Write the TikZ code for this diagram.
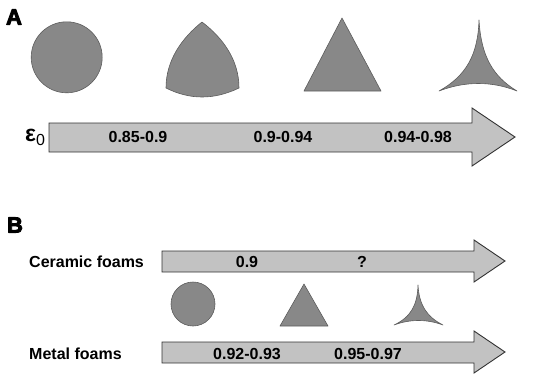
\documentclass[tikz,border=0pt]{standalone}
\usepackage{fontspec}
\setmainfont{Liberation Sans}
\newfontfamily\heavyfont[FakeBold=4]{Liberation Sans Bold}
\definecolor{shapegray}{HTML}{888888}
\definecolor{shapeline}{HTML}{5C5C5C}
\definecolor{arrowgray}{HTML}{C2C2C2}
\definecolor{arrowline}{HTML}{333333}
\tikzset{
  particle/.style={fill=shapegray,draw=shapeline,line width=0.6pt},
  bigarrow/.style={fill=arrowgray,draw=arrowline,line width=0.9pt,line join=miter},
  value/.style={font=\fontsize{16}{19}\selectfont\bfseries,inner sep=0pt},
  panel/.style={font=\fontsize{22}{24}\selectfont\heavyfont,inner sep=0pt}
}
\begin{document}
\begin{tikzpicture}[x=1pt,y=-1pt,line cap=round,line join=round]
  \useasboundingbox (0,0) rectangle (550,381);
  % panel A
  \node[panel] (labA) at (14,17) {A};
  \draw[particle] (66.7,57.3) circle[radius=35.5];
  \draw[particle] (202,22) .. controls (182,38) and (166,60) .. (166,88)
    .. controls (190,100) and (214,100) .. (239,88)
    .. controls (239,60) and (223,38) .. (202,22) -- cycle;
  \draw[particle] (342,18) -- (304,91) -- (381,91) -- cycle;
  \draw[particle] (479,20) .. controls (478,55) and (466,76) .. (439,91)
    .. controls (465,81) and (492,81) .. (517,91)
    .. controls (492,76) and (481,55) .. (479,20) -- cycle;
  \draw[bigarrow] (49,123) -- (472,123) -- (472,108) -- (515,137)
    -- (472,166) -- (472,152) -- (49,152) -- cycle;
  \node[inner sep=0pt,anchor=base west] (eps) at (25,141)
    {\fontsize{23}{23}\selectfont\bfseries ε\raisebox{-4pt}{\fontsize{16}{16}\selectfont\mdseries 0}};
  \node[value] (rangeA) at (138,137) {0.85-0.9};
  \node[value] (rangeB) at (283,137) {0.9-0.94};
  \node[value] (rangeC) at (418,137) {0.94-0.98};
  % panel B
  \node[panel] (labB) at (15,225) {B};
  \draw[bigarrow] (162,251) -- (474,251) -- (474,240) -- (505,261)
    -- (474,282) -- (474,272) -- (162,272) -- cycle;
  \node[value,anchor=west] (ceramic) at (29,262) {Ceramic foams};
  \node[value] (ceramicA) at (247,262) {0.9};
  \node[value] (ceramicB) at (362,262) {?};
  \draw[particle] (193,304) circle[radius=22];
  \draw[particle] (304,284) -- (280,326) -- (328,326) -- cycle;
  \draw[particle] (418,285) .. controls (417.5,305) and (411,317) .. (394,325)
    .. controls (410,319) and (427,319) .. (443,325)
    .. controls (427,317) and (419,305) .. (418,285) -- cycle;
  \draw[bigarrow] (162,342) -- (474,342) -- (474,331) -- (505,352)
    -- (474,373) -- (474,363) -- (162,363) -- cycle;
  \node[value,anchor=west] (metal) at (29,354) {Metal foams};
  \node[value] (metalA) at (247,354) {0.92-0.93};
  \node[value] (metalB) at (368,354) {0.95-0.97};
\end{tikzpicture}
\end{document}
